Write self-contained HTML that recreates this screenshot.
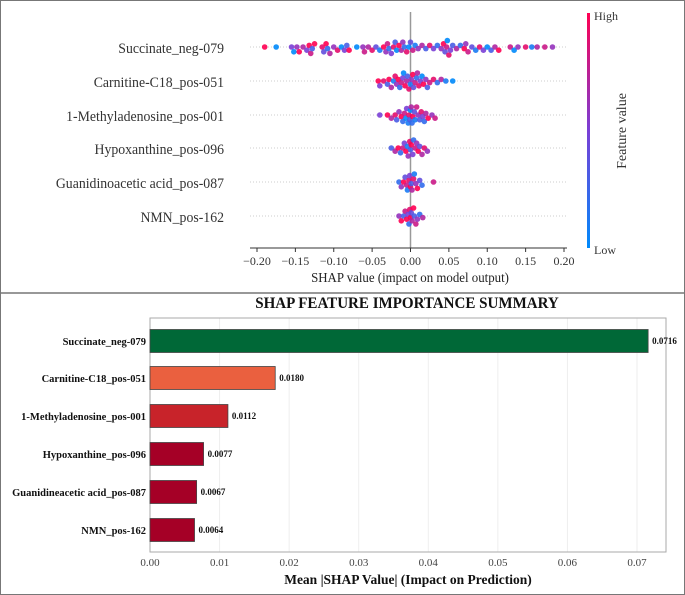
<!DOCTYPE html>
<html><head><meta charset="utf-8">
<style>
html,body{margin:0;padding:0;background:#fff;}
svg{display:block;font-family:"Liberation Serif",serif;}
</style></head>
<body>
<svg id="c" width="685" height="595" viewBox="0 0 685 595">
<defs>
<linearGradient id="cb" x1="0" y1="1" x2="0" y2="0">
<stop offset="0" stop-color="#008afb"/><stop offset="0.5" stop-color="#7a3fd6"/><stop offset="1" stop-color="#ff0052"/>
</linearGradient>
</defs>
<rect x="0.5" y="0.5" width="684" height="594" fill="#fff" stroke="#777"/>
<line x1="0" y1="293" x2="685" y2="293" stroke="#777" stroke-width="1.5"/>
<g id="topPanel"></g>
<g id="botPanel"></g>
</svg>
<script>
const features = ["Succinate_neg-079","Carnitine-C18_pos-051","1-Methyladenosine_pos-001","Hypoxanthine_pos-096","Guanidinoacetic acid_pos-087","NMN_pos-162"];
const shapSuccinate = [-0.19,-0.175,-0.155,-0.152,-0.148,-0.145,-0.14,-0.135,-0.132,-0.13,-0.128,-0.125,-0.115,-0.113,-0.11,-0.108,-0.105,-0.1,-0.095,-0.09,-0.086,-0.083,-0.08,-0.07,-0.062,-0.06,-0.055,-0.05,-0.045,-0.04,-0.035,-0.032,-0.03,-0.028,-0.025,-0.022,-0.02,-0.018,-0.015,-0.012,-0.01,-0.008,-0.005,-0.002,0.0,0.003,0.006,0.01,0.015,0.02,0.025,0.03,0.035,0.04,0.043,0.045,0.047,0.048,0.05,0.052,0.055,0.06,0.065,0.07,0.072,0.075,0.08,0.085,0.09,0.095,0.1,0.105,0.11,0.115,0.13,0.135,0.14,0.15,0.158,0.165,0.175,0.185];
const colSuccinate = [1,0,0.5,0,0.6,1,0.7,0.5,1,0.8,0.3,1,0.9,0.4,1,0.2,0.7,0.6,0.9,0,0.5,0.3,1,0,0.6,0.8,0.7,0.9,0.4,0.1,1,0.6,0.8,0.2,0.5,0.9,0.3,0,1,0.7,0.6,0.2,0.9,0,0.4,0.8,0.1,0.6,0.7,0.3,0.9,0.5,0.2,0.6,1,0.4,0.8,0,0.9,0.5,0.3,0.7,0.2,1,0.6,0.8,0.4,0.1,0.9,0.5,0,0.3,0.7,1,0.8,0,0.6,0.9,0.1,0.7,0.8,0.6];
const shapCarnitine = [-0.042,-0.04,-0.035,-0.03,-0.028,-0.025,-0.022,-0.02,-0.018,-0.016,-0.014,-0.012,-0.01,-0.009,-0.007,-0.005,-0.004,-0.002,0.0,0.001,0.003,0.004,0.006,0.008,0.009,0.011,0.013,0.015,0.017,0.02,0.022,0.025,0.03,0.035,0.04,0.046,0.055];
const colCarnitine = [1,0.5,0.9,0.3,1,0.7,0.1,0.9,0.6,1,0.2,0.8,0.5,0,1,0.7,0.3,0.9,0.1,0.6,1,0.4,0.8,0.2,0.7,0.9,0.5,0,1,0.6,0.3,0.8,0.9,0.2,0.7,0.1,0];
const shapMethyl = [-0.04,-0.03,-0.025,-0.02,-0.018,-0.015,-0.012,-0.01,-0.008,-0.006,-0.005,-0.003,-0.002,-0.001,0.0,0.001,0.002,0.003,0.005,0.006,0.008,0.01,0.012,0.014,0.016,0.018,0.02,0.023,0.028,0.032];
const colMethyl = [0.5,1,0.7,0.9,0.3,0.6,1,0.2,0.8,0,0.5,0.1,0.9,0.3,0,0.7,0.2,1,0.4,0.1,0.8,0.6,0.3,0.9,0.5,0.2,0.7,1,0.6,0.8];
const shapHypo = [-0.025,-0.02,-0.016,-0.013,-0.01,-0.008,-0.006,-0.004,-0.003,-0.001,0.0,0.001,0.003,0.004,0.006,0.008,0.01,0.012,0.015,0.018,0.022];
const colHypo = [0.3,0.7,1,0.2,0.8,0.5,1,0.1,0.6,0.9,0.3,1,0.5,0.2,0.8,0.6,1,0.4,0.7,0.9,0.6];
const shapGuan = [-0.015,-0.012,-0.009,-0.007,-0.005,-0.004,-0.002,-0.001,0.0,0.001,0.002,0.004,0.005,0.007,0.009,0.012,0.015,0.03];
const colGuan = [0.2,0.6,1,0.4,0.8,0.1,0.9,0.5,1,0.3,0.7,0.9,0.1,0.6,1,0.4,0.2,0.8];
const shapNMN = [-0.015,-0.012,-0.009,-0.007,-0.005,-0.003,-0.002,-0.001,0.0,0.001,0.002,0.004,0.005,0.007,0.009,0.012,0.016];
const colNMN = [0.6,1,0.3,0.8,1,0.5,0.2,0.9,1,0.4,0.7,1,0.3,0.8,0.6,0.2,0.7];
const xTicksTop = [-0.20,-0.15,-0.10,-0.05,0.00,0.05,0.10,0.15,0.20];
const importance = [0.0716,0.0180,0.0112,0.0077,0.0067,0.0064];
const importanceLabels = ["0.0716","0.0180","0.0112","0.0077","0.0067","0.0064"];
const barColors = ["#006837","#ea603f","#c8232a","#a50026","#a50026","#a50026"];
const xTicksBot = [0,0.01,0.02,0.03,0.04,0.05,0.06,0.07];
const xTickLabelsBot = ["0.00","0.01","0.02","0.03","0.04","0.05","0.06","0.07"];

const NS="http://www.w3.org/2000/svg";
function mk(parent,tag,attrs,text){const e=document.createElementNS(NS,tag);for(const k in attrs)e.setAttribute(k,attrs[k]);if(text!==undefined)e.textContent=text;parent.appendChild(e);return e;}
function lerp(a,b,t){return a+(b-a)*t;}
function cmap(t){const A=[0,138,251],M=[122,63,214],B=[255,0,82];let c;if(t<0.5){c=A.map((v,i)=>lerp(v,M[i],t*2));}else{c=M.map((v,i)=>lerp(v,B[i],(t-0.5)*2));}return `rgb(${c.map(Math.round).join(',')})`;}

// ---------- TOP ----------
const topG=document.getElementById('topPanel');
const xT=v=>410.5+v*(564-257)/0.4;
const rowY=[47,81,115,148,182,216];
const sets=[[shapSuccinate,colSuccinate],[shapCarnitine,colCarnitine],[shapMethyl,colMethyl],[shapHypo,colHypo],[shapGuan,colGuan],[shapNMN,colNMN]];
rowY.forEach((y,i)=>{
  const l=mk(topG,'line',{x1:250,x2:567,y1:y,y2:y,stroke:'#ccc','stroke-dasharray':'1,2','stroke-width':1});
  
  
  const t=mk(topG,'text',{x:0,y:0,transform:`translate(224,${y+6}) scale(0.92,1)`,'text-anchor':'end','font-size':15,fill:'#333'},features[i]);
  
  
});
const zl=mk(topG,'line',{x1:xT(0),x2:xT(0),y1:12,y2:248,stroke:'#999','stroke-width':1.5});


const R=2.8;
sets.forEach((s,i)=>{
  const vals=s[0],cols=s[1];
  const placed=[];
  const order=vals.map((v,k)=>k).sort((a,b)=>vals[a]-vals[b]);
  order.forEach(k=>{
    const x=xT(vals[k]);let dy=0,best=-1;
    for(let n=0;n<11;n++){
      const cand=(n%2?1:-1)*Math.ceil(n/2)*1.6;
      let md=99;placed.forEach(p=>{const d=Math.hypot(p[0]-x,p[1]-cand);if(d<md)md=d;});
      if(md>=R*1.5){dy=cand;best=md;break;}
      if(md>best){best=md;dy=cand;}
    }
    placed.push([x,dy]);
    const d=mk(topG,'circle',{cx:x,cy:rowY[i]+dy,r:R,fill:cmap(cols[k]),'fill-opacity':0.9});
    
    
  });
});
const ax=mk(topG,'line',{x1:250,x2:567,y1:248,y2:248,stroke:'#333','stroke-width':1});


xTicksTop.forEach(v=>{
  const x=xT(v);
  const tk=mk(topG,'line',{x1:x,x2:x,y1:248,y2:252,stroke:'#333'});
  
  
  const tl=mk(topG,'text',{x:x,y:265,'text-anchor':'middle','font-size':12,fill:'#333'},(v<0?'\u2212':'')+Math.abs(v).toFixed(2));
  
  
});
const xt=mk(topG,'text',{x:0,y:0,transform:'translate(410,282) scale(0.92,1)','text-anchor':'middle','font-size':14,fill:'#222'},'SHAP value (impact on model output)');


const cb=mk(topG,'rect',{x:587,y:13,width:3,height:235,fill:'url(#cb)'});


const hi=mk(topG,'text',{x:594,y:20,'font-size':12,fill:'#333'},'High');


const lo=mk(topG,'text',{x:594,y:254,'font-size':12,fill:'#333'},'Low');


const fv=mk(topG,'text',{x:0,y:0,'text-anchor':'middle','font-size':14,fill:'#333',transform:'translate(626,131) rotate(-90)'},'Feature value');



// ---------- BOTTOM ----------
const botG=document.getElementById('botPanel');
const x0=150,xB=v=>x0+v*(637-150)/0.07;
const barY=[341,378,416,454,492,530];
const ti=mk(botG,'text',{x:0,y:0,transform:'translate(407,308) scale(0.94,1)','text-anchor':'middle','font-size':16,'font-weight':'bold',fill:'#111'},'SHAP FEATURE IMPORTANCE SUMMARY');


xTicksBot.forEach((v,i)=>{
  const x=xB(v);
  const g=mk(botG,'line',{x1:x,x2:x,y1:318,y2:552,stroke:'#eee','stroke-width':1});
  
  
  const tl=mk(botG,'text',{x:x,y:566,'text-anchor':'middle','font-size':11,fill:'#444'},xTickLabelsBot[i]);
  
  
});
const fr=mk(botG,'rect',{x:150,y:318,width:516,height:234,fill:'none',stroke:'#aaa','stroke-width':1});


importance.forEach((v,i)=>{
  const y=barY[i];
  const b=mk(botG,'rect',{x:x0,y:y-11.5,width:xB(v)-x0,height:23,fill:barColors[i],stroke:'#444','stroke-width':0.8});
  
  
  const vl=mk(botG,'text',{x:xB(v)+4,y:y+3,'font-size':9,'font-weight':'bold',fill:'#111'},importanceLabels[i]);
  
  
  const fl=mk(botG,'text',{x:146,y:y+4,'text-anchor':'end','font-size':10.5,'font-weight':'bold',fill:'#111'},features[i].replace('Guanidinoacetic','Guanidineacetic'));
  
  
});
const bt=mk(botG,'text',{x:408,y:584,'text-anchor':'middle','font-size':13.5,'font-weight':'bold',fill:'#111'},'Mean |SHAP Value| (Impact on Prediction)');


</script>
</body></html>
